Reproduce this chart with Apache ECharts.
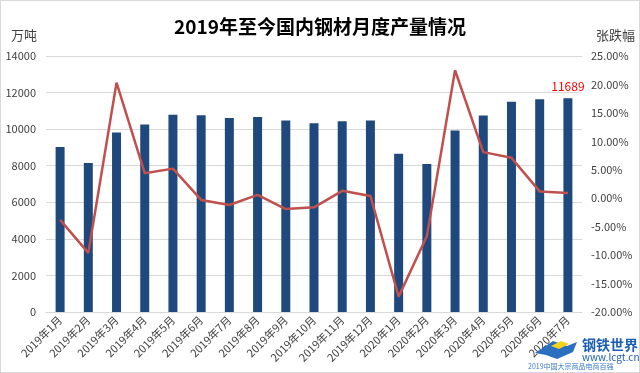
<!DOCTYPE html>
<html>
<head>
<meta charset="utf-8">
<script src="https://cdn.jsdelivr.net/npm/echarts@6/dist/echarts.min.js"></script>
<style>
html,body{margin:0;padding:0;background:#fff;}
#c{width:640px;height:373px;box-sizing:border-box;border:1px solid #d9d9d9;}
</style>
</head>
<body>
<div id="c"></div>
<script>
const categories = ['2019年1月','2019年2月','2019年3月','2019年4月','2019年5月','2019年6月','2019年7月','2019年8月','2019年9月','2019年10月','2019年11月','2019年12月','2020年1月','2020年2月','2020年3月','2020年4月','2020年5月','2020年6月','2020年7月'];
const output = [9020, 8150, 9820, 10250, 10790, 10760, 10610, 10670, 10470, 10320, 10430, 10470, 8660, 8100, 9930, 10740, 11500, 11630, 11689];
const change = [-3.8, -9.6, 20.3, 4.4, 5.2, -0.3, -1.2, 0.6, -1.9, -1.6, 1.3, 0.4, -17.3, -6.7, 22.5, 8.1, 7.1, 1.2, 0.9];
const leftTicks = {min: 0, max: 14000, interval: 2000};
const rightTicks = {min: -20, max: 25, interval: 5};

const font = '"Noto Sans CJK SC", "Microsoft YaHei", sans-serif';
const chart = echarts.init(document.getElementById('c'));
const lastIdx = output.length - 1;
chart.setOption({
  animation: false,
  textStyle: {fontFamily: font},
  title: {
    text: '2019年至今国内钢材月度产量情况',
    left: 'center', top: 11,
    textStyle: {fontSize: 19, fontWeight: 'bold', color: '#000', fontFamily: font}
  },
  grid: {left: 45, right: 57, top: 55, bottom: 60},
  xAxis: {
    type: 'category',
    data: categories,
    axisTick: {show: false},
    axisLine: {lineStyle: {color: '#d9d9d9'}},
    axisLabel: {rotate: 45, fontSize: 11, color: '#404040', margin: 6, interval: 0}
  },
  yAxis: [
    {
      type: 'value', name: '万吨', nameLocation: 'end', nameGap: 14,
      nameTextStyle: {fontSize: 13, color: '#404040', align: 'right', padding: [0, 9, 0, 0]},
      min: leftTicks.min, max: leftTicks.max, interval: leftTicks.interval,
      axisLabel: {fontSize: 11, color: '#404040', margin: 10, formatter: v => String(v)},
      splitLine: {lineStyle: {color: '#d9d9d9'}},
      axisLine: {show: false}, axisTick: {show: false}
    },
    {
      type: 'value', name: '张跌幅', nameLocation: 'end', nameGap: 14,
      nameTextStyle: {fontSize: 13, color: '#404040', align: 'left', padding: [0, 0, 0, 14]},
      min: rightTicks.min, max: rightTicks.max, interval: rightTicks.interval,
      axisLabel: {fontSize: 11, color: '#404040', margin: 9, formatter: v => v.toFixed(2) + '%'},
      splitLine: {show: false},
      axisLine: {show: false}, axisTick: {show: false}
    }
  ],
  series: [
    {
      type: 'bar',
      data: output.map((v, i) => i === lastIdx ? {value: v, label: {show: true, position: 'top', color: '#ff0000', fontSize: 12, distance: 6}} : v),
      barWidth: 9,
      itemStyle: {color: '#1f497d'},
      yAxisIndex: 0
    },
    {
      type: 'line',
      data: change,
      yAxisIndex: 1,
      symbol: 'none',
      lineStyle: {color: '#c0504d', width: 2.5},
      z: 5
    }
  ],
  graphic: [
    {type: 'polygon', z: 10, shape: {points: [[534, 352], [552, 340], [566, 345], [576, 341], [572, 351], [556, 358], [545, 354]]}, style: {fill: '#2b6fc0'}},
    {type: 'polygon', z: 11, shape: {points: [[550, 345], [560, 340], [568, 343], [558, 348]]}, style: {fill: '#f2d21b'}},
    {type: 'text', z: 10, left: 581, top: 337, style: {text: '钢铁世界', font: 'bold 14px ' + font, fill: '#1a5fb4'}},
    {type: 'text', z: 10, left: 581, top: 351, style: {text: 'www.lcgt.cn', font: '10px ' + font, fill: '#1a5fb4'}},
    {type: 'text', z: 10, left: 527, top: 362, style: {text: '2019中国大宗商品电商百强', font: '7px ' + font, fill: '#3a7bc8'}}
  ]
});
</script>
</body>
</html>
